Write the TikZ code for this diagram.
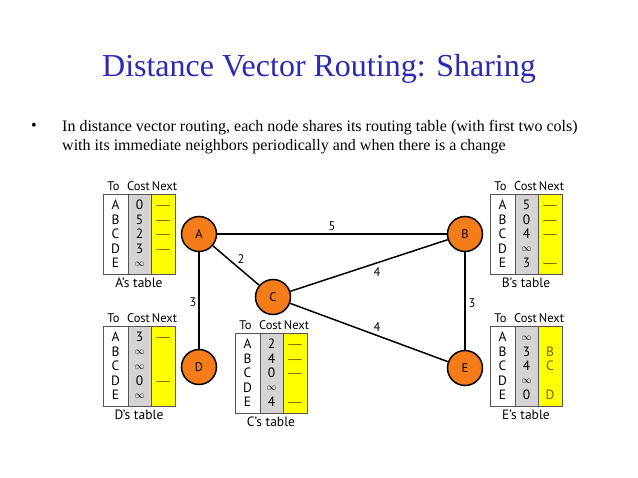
\documentclass[tikz,border=0pt]{standalone}
\usepackage{fontspec}
\setmainfont{Liberation Serif}
\newfontfamily\tabfont{PT Sans}
\newfontfamily\dashfont{Liberation Sans}
\definecolor{titleblue}{RGB}{42,42,178}
\definecolor{nodeorange}{RGB}{245,125,25}
\definecolor{tabgray}{RGB}{212,212,212}
\definecolor{tabyellow}{RGB}{255,255,0}
\definecolor{tabline}{RGB}{85,85,85}
\definecolor{nextcol}{RGB}{110,100,0}
\tikzset{
  netnode/.style={circle, draw=black, line width=1.5pt, fill=nodeorange, minimum size=35pt, inner sep=0pt, font=\tabfont\fontsize{12.5}{12.5}\selectfont},
  link/.style={line width=1.5pt},
  wlabel/.style={font=\tabfont\fontsize{12.5}{12.5}\selectfont, inner sep=1pt},
  tcol/.style={draw=tabline, line width=0.9pt, minimum height=80pt, inner sep=0pt, anchor=north west},
  cell/.style={font=\tabfont\fontsize{13.5}{13.5}\selectfont, inner sep=0pt, text height=9.5pt, text depth=1pt},
  nextcell/.style={cell, text=nextcol},
  hdr/.style={font=\tabfont\fontsize{12.5}{12.5}\selectfont, inner sep=0pt}
}
\newcommand\inff{\raisebox{1.3pt}[5pt][0pt]{\fontsize{10}{10}\selectfont$\infty$}}
\newcommand\dsh{{\dashfont —}}
\newcommand\dvtab[6]{%
  \begin{scope}[shift={(#2,#3)}]
    \node[tcol, fill=white, minimum width=25pt] (#1w) at (0,0) {};
    \node[tcol, fill=tabgray, minimum width=23pt] (#1g) at (25,0) {};
    \node[tcol, fill=tabyellow, minimum width=24pt] (#1y) at (48,0) {};
    \node[hdr] (#1ha) at (10.5,-8) {To};
    \node[hdr] (#1hb) at (35.5,-8) {Cost};
    \node[hdr] (#1hc) at (61.5,-8) {Next};
    \foreach \t [count=\i] in {A,B,C,D,E}
      \node[cell] (#1t\i) at (12.5,{11.5+14.5*(\i-1)}) {\t};
    \foreach \c [count=\i] in {#4}
      \node[cell] (#1c\i) at (36.5,{11.5+14.5*(\i-1)}) {\c};
    \foreach \n [count=\i] in {#5}
      \node[nextcell] (#1n\i) at (60,{11.5+14.5*(\i-1)}) {\n};
    \node[cell] (#1l) at (36,89) {#6};
  \end{scope}}
\begin{document}
\begin{tikzpicture}[x=1pt,y=-1pt]
  \useasboundingbox (0,0) rectangle (638,478);
  \fill[white] (0,0) rectangle (638,478);
  % title and text
  \node[anchor=base, text=titleblue, font=\fontsize{32}{32}\selectfont, inner sep=0pt] (title) at (319,77) {Distance Vector Routing: Sharing};
  \node[anchor=base, font=\fontsize{16}{16}\selectfont, inner sep=0pt] (bullet) at (34,131) {•};
  \node[anchor=base west, font=\fontsize{16}{16}\selectfont, inner sep=0pt] (line1) at (62,132) {In distance vector routing, each node shares its routing table (with first two cols)};
  \node[anchor=base west, font=\fontsize{16}{16}\selectfont, inner sep=0pt] (line2) at (62,151) {with its immediate neighbors periodically and when there is a change};
  % network
  \node[netnode] (A) at (199,234) {A};
  \node[netnode] (B) at (465,234) {B};
  \node[netnode] (C) at (273,297) {C};
  \node[netnode] (D) at (199,367) {D};
  \node[netnode] (E) at (465,368) {E};
  \draw[link] (A) -- (B);
  \draw[link] (A) -- (C);
  \draw[link] (A) -- (D);
  \draw[link] (C) -- (B);
  \draw[link] (C) -- (E);
  \draw[link] (B) -- (E);
  \node[wlabel] (l5) at (332,226) {5};
  \node[wlabel] (l2) at (241,259) {2};
  \node[wlabel] (l4a) at (377,272) {4};
  \node[wlabel] (l3a) at (193,302) {3};
  \node[wlabel] (l3b) at (472,303) {3};
  \node[wlabel] (l4b) at (377,327) {4};
  % tables
  \dvtab{ta}{103}{194}{0,5,2,3,\inff}{\dsh,\dsh,\dsh,\dsh,{}}{A’s table}
  \dvtab{tb}{490}{194}{5,0,4,\inff,3}{\dsh,\dsh,\dsh,{},\dsh}{B’s table}
  \dvtab{td}{103}{326}{3,\inff,\inff,0,\inff}{\dsh,{},{},\dsh,{}}{D’s table}
  \dvtab{tc}{235}{333}{2,4,0,\inff,4}{\dsh,\dsh,\dsh,{},\dsh}{C’s table}
  \dvtab{te}{490}{326}{\inff,3,4,\inff,0}{{},B,C,{},D}{E’s table}
\end{tikzpicture}
\end{document}
